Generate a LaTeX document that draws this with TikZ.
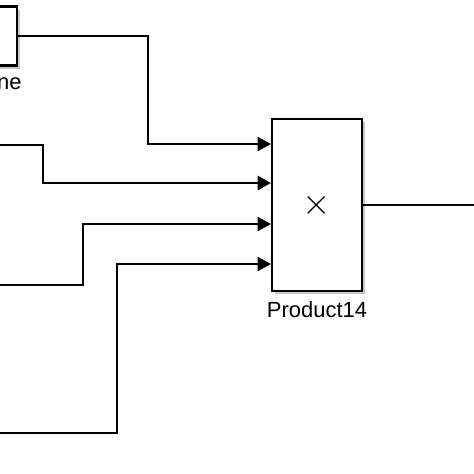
\documentclass[tikz,border=0pt]{standalone}
\usepackage{fontspec}
\setmainfont{Liberation Sans}
\usetikzlibrary{arrows.meta, calc, positioning, shadows}

\tikzset{
  wire/.style={line width=1.3pt},
  inwire/.style={wire, -{Triangle[length=7.5pt,width=8pt]}},
  block/.style={draw, line width=1.3pt, fill=white,
    drop shadow={shadow xshift=1.8pt, shadow yshift=-1.8pt, opacity=.45}},
  blocklabel/.style={font=\fontsize{12.5}{14}\selectfont, inner sep=0pt}
}

\begin{document}
\begin{tikzpicture}[x=0.02cm, y=-0.02cm]
				\clip (0,0) rectangle (474,474);
				% Blocks
				\node [block, minimum width=1.2cm, minimum height=1.18cm] (sine) at (-13,36) {};
				\node [blocklabel, anchor=east] (sinelabel) at (22,84) {ne};
				\node [block, minimum width=1.8cm, minimum height=3.44cm] (prod) at (317,205)
					{\fontsize{22}{22}\selectfont $\times$};
				\node [blocklabel, below=5pt of prod] (prodlabel) {Product14};
				
				% Inputs
				\coordinate (k1) at (148,144);
				\draw [inwire] (sine.east) -| (k1) -- (k1 -| prod.west);
				\foreach \y/\x/\z [count=\i from 2] in {145/43/183, 285/83/224, 433/117/264}
				{
					\coordinate (in\i) at (0,\y);
					\coordinate (k\i) at (\x,\z);
					\draw [inwire] (in\i) -| (k\i) -- (k\i -| prod.west);
				}
				
				% Output
				\coordinate (out) at (474,205);
				\draw [wire] (prod.east) -- (out);
			\end{tikzpicture}
\end{document}
